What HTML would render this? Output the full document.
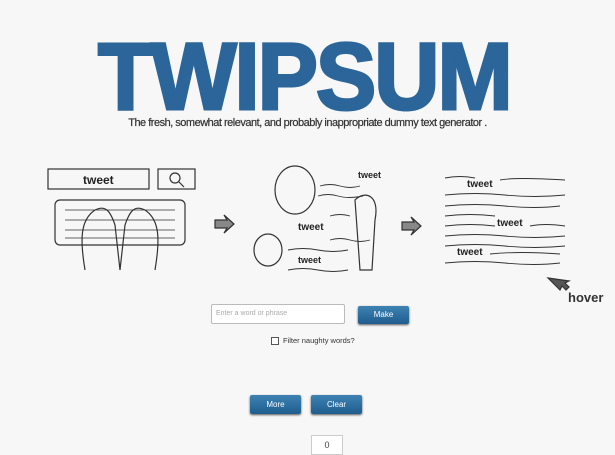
<!DOCTYPE html>
<html><head><style>
body{margin:0;width:615px;height:450px;background:#f7f7f7;position:relative;overflow:hidden;font-family:"Liberation Sans",sans-serif}
.t{position:absolute;left:98px;top:30px;font-size:95px;font-weight:bold;color:#2b6599;letter-spacing:-2px;transform:scaleX(0.95);transform-origin:left top;line-height:95px;-webkit-text-stroke:3px #2b6599}
.sub{position:absolute;left:0;width:615px;top:117px;text-align:center;font-size:11px;color:#333;letter-spacing:-0.5px;-webkit-text-stroke:0.2px #333}
.btn{position:absolute;background:linear-gradient(#3d82b3,#1f5d8e);color:#fff;font-size:8px;text-align:center;border-radius:2px;box-shadow:0 1px 2px #555}
.a{position:absolute}
</style></head><body>
<div class="t">TWIPSUM</div>
<div class="sub">The fresh, somewhat relevant, and probably inappropriate dummy text generator .</div>
<svg class="a" style="left:0;top:150px" width="615" height="160" fill="none" stroke="#333" stroke-width="1.2">
<rect x="48" y="19" width="101" height="20"/><text x="83" y="34" font-size="12" font-weight="bold" fill="#222" stroke="none">tweet</text>
<rect x="158" y="19" width="37" height="20"/><circle cx="175" cy="28" r="5"/><line x1="179" y1="32" x2="184" y2="37"/>
<rect x="55" y="50" width="130" height="45" rx="5"/>
<path d="M65 60h110M65 70h110M65 80h110M65 88h110" stroke-width=".8"/>
<path d="M85 120 C80 90 80 70 95 60 C105 55 110 60 115 75 L120 120" />
<path d="M155 120 C160 90 160 70 145 60 C135 55 130 60 125 75 L120 120"/>
<path d="M215 70h12l-3-5 10 9-10 9 3-5h-12z" fill="#888"/>
<path d="M402 72h12l-3-5 10 9-10 9 3-5h-12z" fill="#888"/>
<ellipse cx="295" cy="40" rx="20" ry="24"/><ellipse cx="268" cy="100" rx="14" ry="16"/>
<path d="M355 50 C365 40 380 45 375 70 L372 120 L360 120 Z"/>
<text x="358" y="28" font-size="9" font-weight="bold" fill="#222" stroke="none">tweet</text>
<text x="298" y="80" font-size="10" font-weight="bold" fill="#222" stroke="none">tweet</text>
<text x="298" y="113" font-size="9" font-weight="bold" fill="#222" stroke="none">tweet</text>
<path d="M320 36q10-3 20 0t20 0M318 46q10-3 20 0t25 0M330 66q10-3 20 0M330 90q10-3 20 0t20 0M288 100q15-3 30 0t30 0M288 120q15-3 30 0t30 0" stroke-width=".9"/>
<text x="467" y="37" font-size="10" font-weight="bold" fill="#222" stroke="none">tweet</text>
<text x="497" y="76" font-size="10" font-weight="bold" fill="#222" stroke="none">tweet</text>
<text x="457" y="105" font-size="10" font-weight="bold" fill="#222" stroke="none">tweet</text>
<path d="M445 28q15-3 30 0M500 30q15-3 65 0M445 45q30-3 60 0t60 0M445 56q30-3 60 0t55 0M445 66q25-3 50 0M445 76q25-3 50 0M530 76q15-3 35 0M445 86q30-3 60 0t60 0M445 96q30-3 60 0t60 0M490 104q30-3 70 0M445 113q30-3 60 0t55 0" stroke-width=".9"/>
<path d="M548 128l12 12 2-4 4 4 3-3-4-4 4-2z" fill="#555"/>
</svg>
<div class="a" style="left:568px;top:290px;font-size:13px;font-weight:bold;color:#333">hover</div>
<div class="a" style="left:211px;top:304px;border:1px solid #bbb;background:#fff;border-radius:2px;font-size:7px;color:#aaa;line-height:18px;padding-left:4px;box-sizing:border-box;width:134px;height:20px">Enter a word or phrase</div>
<div class="btn" style="left:358px;top:306px;width:51px;height:18px;line-height:18px">Make</div>
<div class="a" style="left:271px;top:337px;width:6px;height:6px;border:1px solid #555;background:#fff"></div>
<div class="a" style="left:283px;top:336px;font-size:7.5px;color:#333">Filter naughty words?</div>
<div class="btn" style="left:250px;top:395px;width:51px;height:19px;line-height:19px">More</div>
<div class="btn" style="left:311px;top:395px;width:51px;height:19px;line-height:19px">Clear</div>
<div class="a" style="left:311px;top:435px;width:30px;height:18px;border:1px solid #ccc;background:#fff;font-size:9px;color:#444;text-align:center;line-height:18px">0</div>
</body></html>
